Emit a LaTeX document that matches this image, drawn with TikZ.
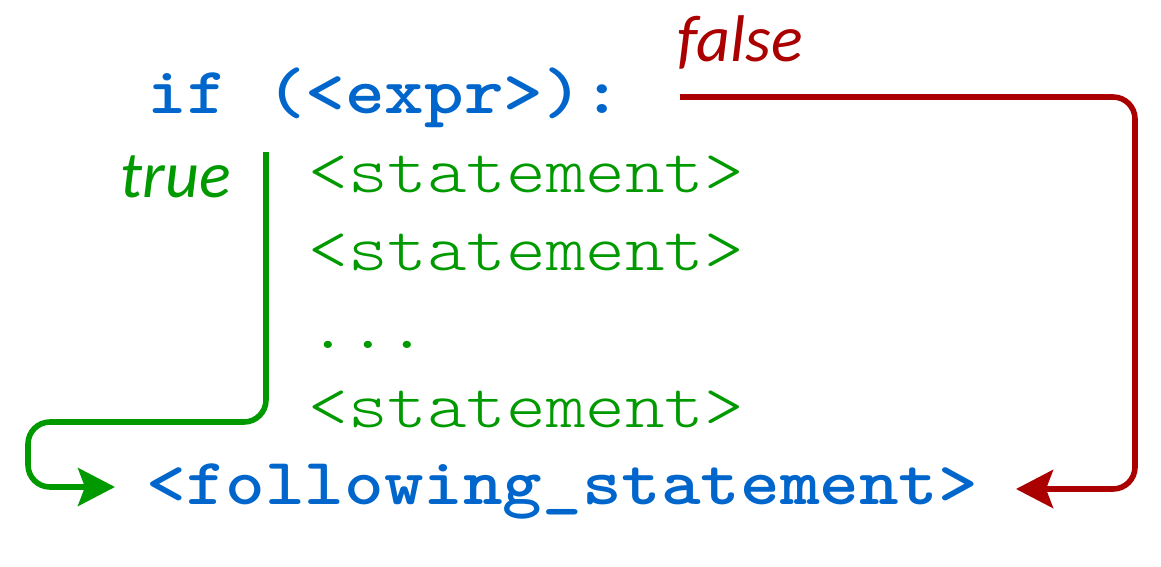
\documentclass[tikz,border=0pt]{standalone}
\usepackage{fontspec}
\setmonofont[FakeStretch=1.143]{Latin Modern Mono Light}
\newfontfamily\labelfont{Carlito}
\usetikzlibrary{arrows.meta}
\definecolor{codeblue}{HTML}{0066CC}
\definecolor{codegreen}{HTML}{009900}
\definecolor{codered}{HTML}{AA0000}
\tikzset{
  kw/.style={inner sep=0pt, anchor=base west, text=codeblue, font=\ttfamily\bfseries\fontsize{33}{33}\selectfont},
  stmt/.style={inner sep=0pt, anchor=base west, text=codegreen, font=\ttfamily\fontsize{33}{33}\selectfont},
  lbl/.style={inner sep=0pt, anchor=base west, font=\labelfont\itshape\fontsize{33}{33}\selectfont},
  flow/.style={line width=2.8pt, rounded corners=11pt, -{Stealth[length=18.5pt,width=19pt,inset=3.5pt]}},
}
\begin{document}
\begin{tikzpicture}[x=0.5pt,y=-0.5pt]
\useasboundingbox (0,0) rectangle (1161,567);
\node[kw] (ifline) at (147,113) {if (<expr>):};
\node[stmt] (s1) at (308,192) {<statement>};
\node[stmt] (s2) at (308,270) {<statement>};
\node[stmt] (dots) at (308,348) {...};
\node[stmt] (s3) at (308,427) {<statement>};
\node[kw] (follow) at (146,504) {<following\_statement>};
\node[lbl, text=codegreen] (true) at (120,197) {true};
\node[lbl, text=codered] (false) at (677,62) {false};
\coordinate (falsestart) at (680,97);
\coordinate (falseend) at (1016,489);
\coordinate (truestart) at (266,152);
\coordinate (trueend) at (115,487);
\draw[flow, codered] (falsestart) -- (1135,97) -- (1135,489) -- (falseend);
\draw[flow, codegreen] (truestart) -- (266,422) -- (28,422) -- (28,487) -- (trueend);
\end{tikzpicture}
\end{document}
